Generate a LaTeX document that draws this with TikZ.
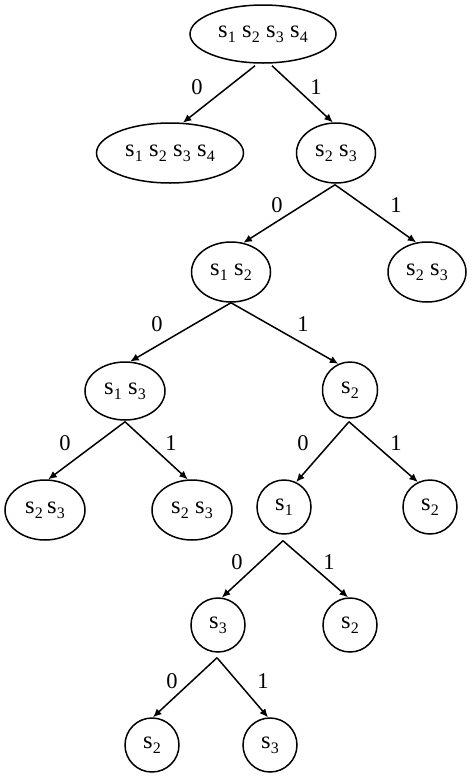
\documentclass[tikz,border=0pt]{standalone}
\usepackage{fontspec}
\setmainfont{Liberation Serif}
\usetikzlibrary{shapes.geometric,arrows.meta}
\newcommand{\sx}[1]{s\kern0.3pt\raisebox{-5pt}{\fontsize{16}{16}\selectfont #1}}
\begin{document}
\begin{tikzpicture}[x=1pt,y=-1pt,
  ell/.style={draw, ellipse, inner sep=0pt, line width=1.5pt, font=\fontsize{24.5}{28}\selectfont},
  lab/.style={font=\fontsize{22.5}{26}\selectfont, inner sep=0pt},
  arr/.style={line width=1.5pt, -{Latex[length=8.5pt,width=7.5pt]}}]
\useasboundingbox (0,0) rectangle (474,777);
% nodes
\node[ell, minimum width=146pt, minimum height=58pt] (n0) at (263,34) {\sx1 \sx2 \sx3 \sx4};
\node[ell, minimum width=147pt, minimum height=60pt] (n1) at (170,153) {\sx1 \sx2 \sx3 \sx4};
\node[ell, minimum width=79pt, minimum height=60pt] (n2) at (336,153) {\sx2 \sx3};
\node[ell, minimum width=79pt, minimum height=60pt] (n3) at (231,272) {\sx1 \sx2};
\node[ell, minimum width=78pt, minimum height=60pt] (n4) at (427,272) {\sx2 \sx3};
\node[ell, minimum width=80pt, minimum height=58pt] (n5) at (125,391) {\sx1 \sx3};
\node[ell, minimum width=55pt, minimum height=56pt] (n6) at (350,390) {\sx2};
\node[ell, minimum width=80pt, minimum height=60pt] (n7) at (45,510) {\sx2\,\sx3};
\node[ell, minimum width=80pt, minimum height=60pt] (n8) at (192,510) {\sx2 \sx3};
\node[ell, minimum width=54pt, minimum height=54pt] (n9) at (284,507) {\sx1};
\node[ell, minimum width=54pt, minimum height=54pt] (n10) at (430,507) {\sx2};
\node[ell, minimum width=54pt, minimum height=54pt] (n11) at (218,625) {\sx3};
\node[ell, minimum width=54pt, minimum height=54pt] (n12) at (350,625) {\sx2};
\node[ell, minimum width=54pt, minimum height=54pt] (n13) at (152,745) {\sx2};
\node[ell, minimum width=54pt, minimum height=54pt] (n14) at (270,745) {\sx3};
% apex coordinates
\coordinate (a0l) at ([xshift=-8pt,yshift=-2pt]n0.south);
\coordinate (a0r) at ([xshift=9pt,yshift=-2pt]n0.south);
\coordinate (a2) at ([xshift=-1pt,yshift=-1pt]n2.south);
\coordinate (a3) at (n3.south);
\coordinate (a5) at ([yshift=-1pt]n5.south);
\coordinate (a6) at ([xshift=-1pt,yshift=-3pt]n6.south);
\coordinate (a9) at ([xshift=-1pt,yshift=-6pt]n9.south);
\coordinate (a11) at ([xshift=-1pt,yshift=-5pt]n11.south);
% edges
\draw[arr] (a0l) -- (n1.67);
\draw[arr] (a0r) -- (n2.96);
\draw[arr] (a2) -- (n3.67);
\draw[arr] (a2) -- (n4.110);
\draw[arr] (a3) -- (n5.80);
\draw[arr] (a3) -- (n6.114);
\draw[arr] (a5) -- (n7.84);
\draw[arr] (a5) -- (n8.98);
\draw[arr] (a6) -- (n9.64);
\draw[arr] (a6) -- (n10.116);
\draw[arr] (a9) -- (n11.82);
\draw[arr] (a9) -- (n12.94);
\draw[arr] (a11) -- (n13.88);
\draw[arr] (a11) -- (n14.94);
% labels
\node[lab] (l1) at (197,87) {0};
\node[lab] (l2) at (316,87) {1};
\node[lab] (l3) at (277,205) {0};
\node[lab] (l4) at (396,205) {1};
\node[lab] (l5) at (157,324) {0};
\node[lab] (l6) at (303,324) {1};
\node[lab] (l7) at (65,443) {0};
\node[lab] (l8) at (171,443) {1};
\node[lab] (l9) at (303,443) {0};
\node[lab] (l10) at (396,443) {1};
\node[lab] (l11) at (237,562) {0};
\node[lab] (l12) at (329,562) {1};
\node[lab] (l13) at (172,681) {0};
\node[lab] (l14) at (263,681) {1};
\end{tikzpicture}
\end{document}
